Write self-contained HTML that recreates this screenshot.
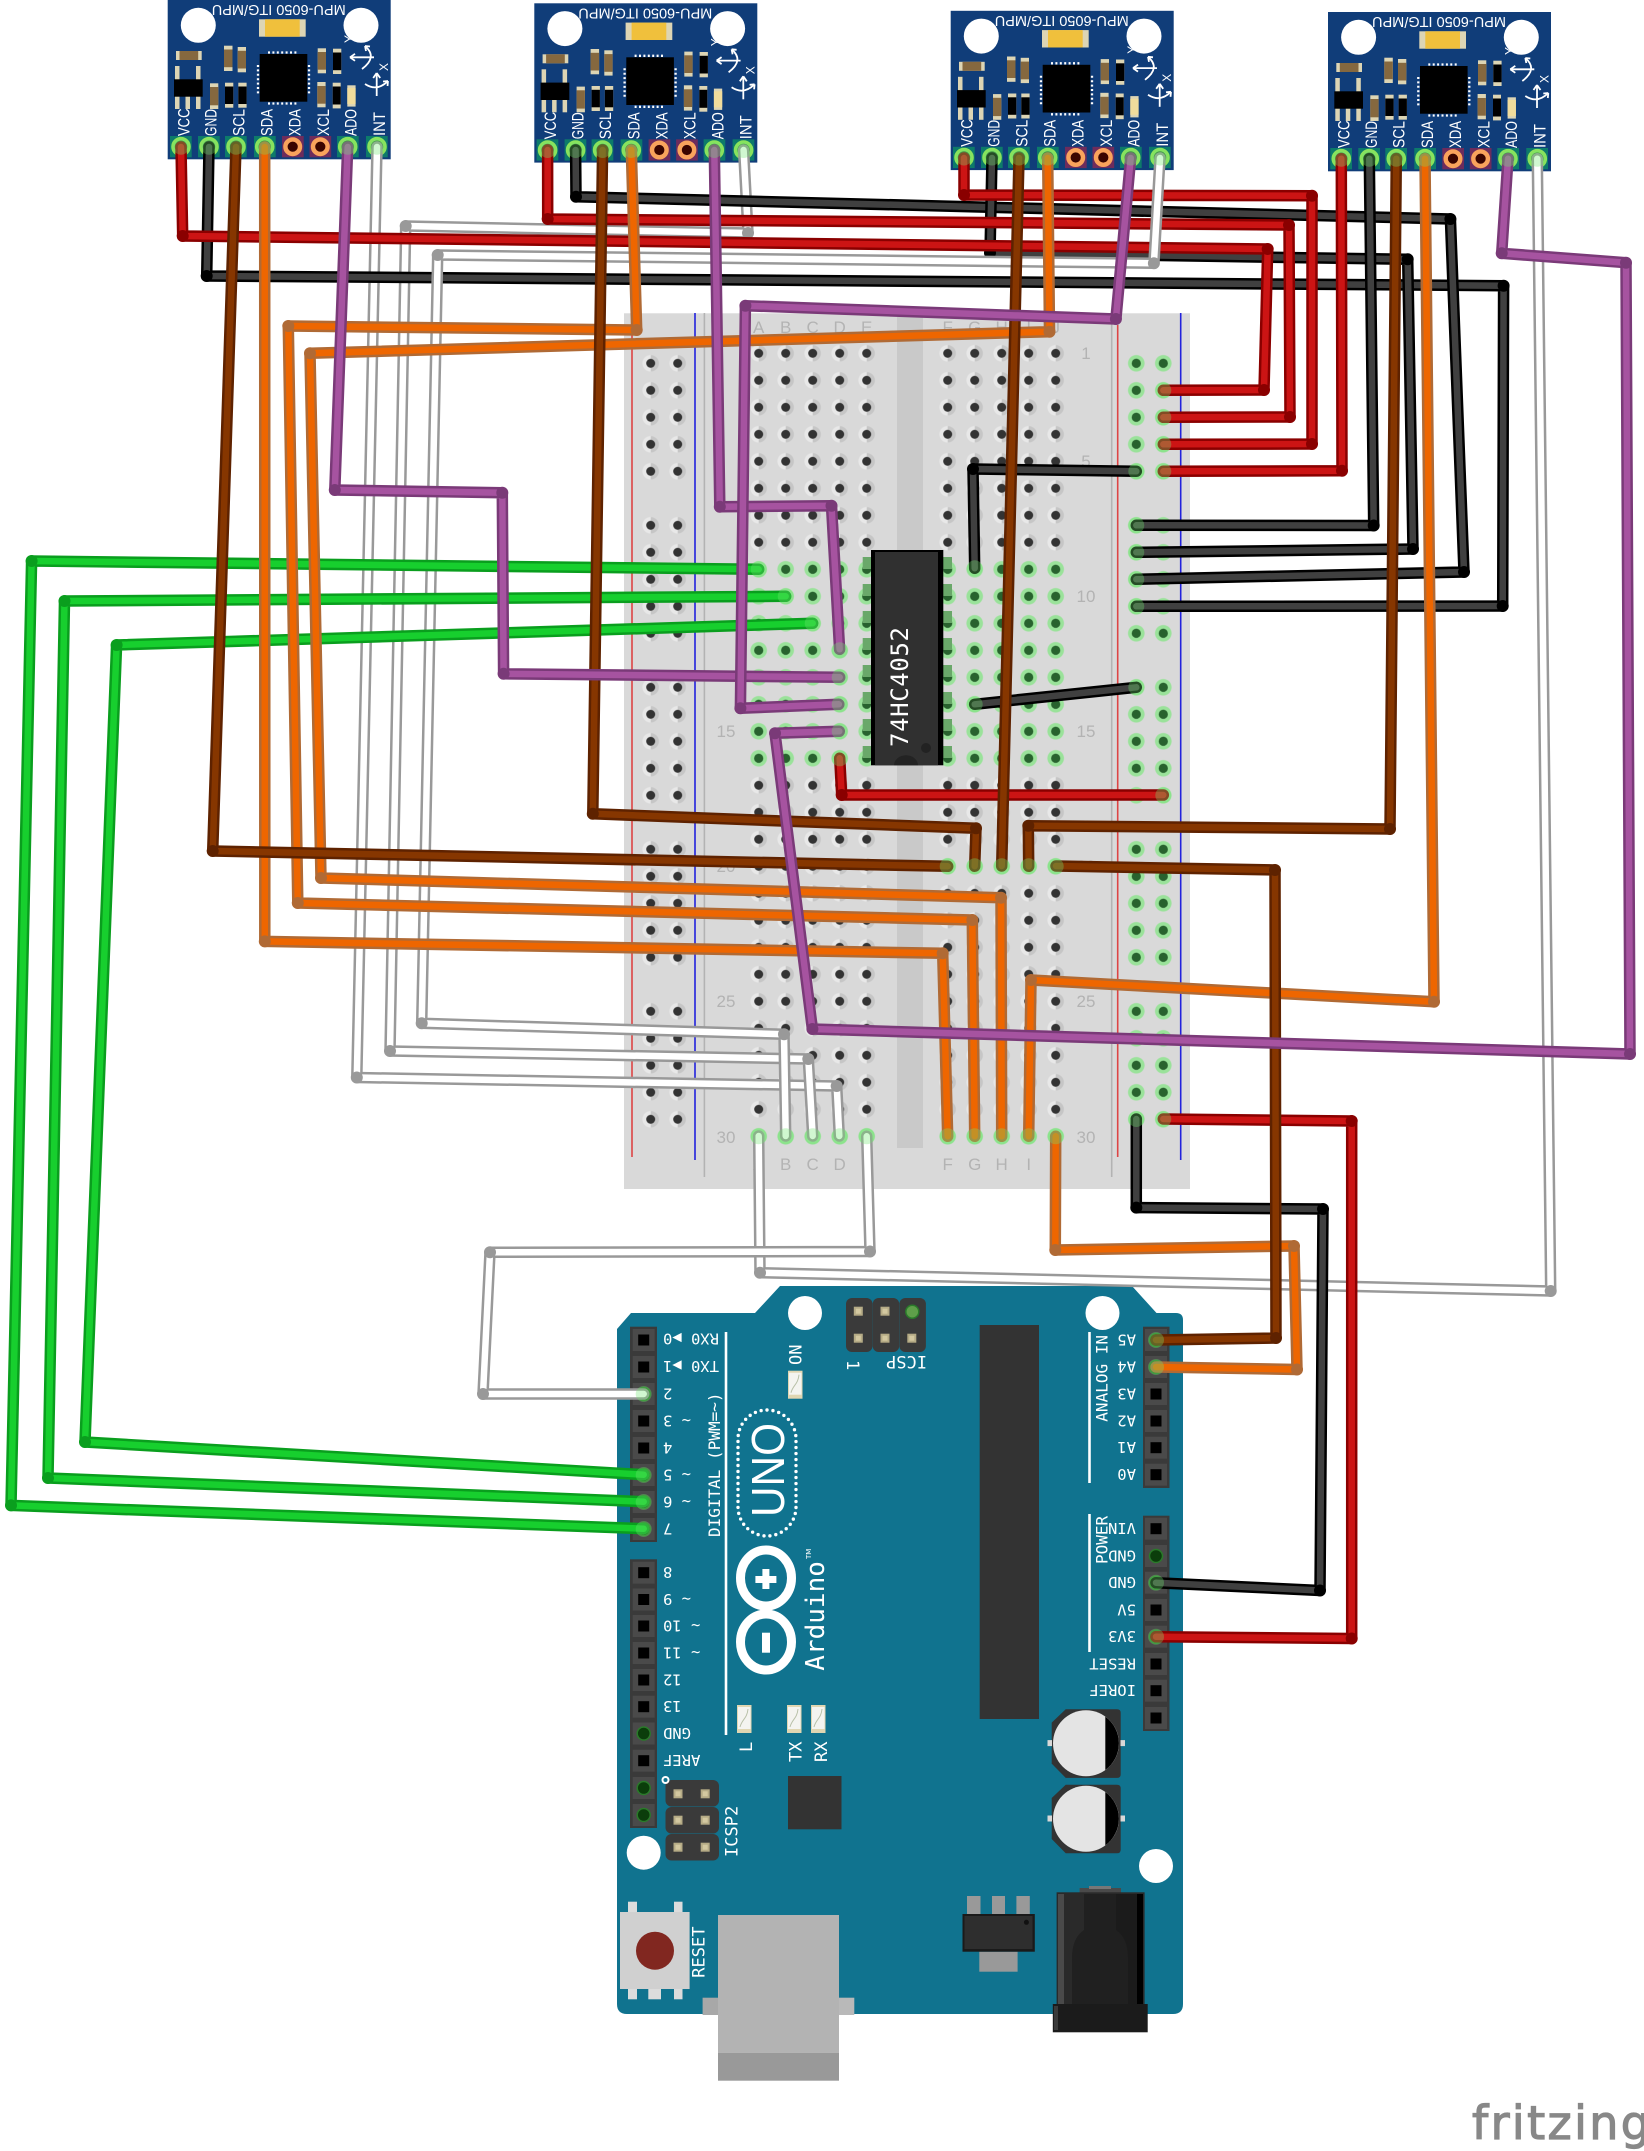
<!DOCTYPE html>
<html><head><meta charset="utf-8"><title>MPU-6050 74HC4052 Arduino wiring</title>
<style>
html,body{margin:0;padding:0;background:#fff}
svg{display:block}
polyline{fill:none;stroke-linejoin:round;stroke-linecap:round}
.ro,.ko,.bo,.yo,.po,.wo,.go{stroke-width:11.5}
.ri,.ki,.bi,.yi,.pi,.wi,.gi{stroke-width:6.5}
.ro{stroke:#8a0000}.ri{stroke:#cc1414;marker-mid:url(#mr)}
.ko{stroke:#000}.ki{stroke:#404040;marker-mid:url(#mk)}
.bo{stroke:#5e2200}.bi{stroke:#863600;marker-mid:url(#mb)}
.yo{stroke:#b06a35}.yi{stroke:#ee6600;marker-mid:url(#my)}
.po{stroke:#7a3a78}.pi{stroke:#a653a0;marker-mid:url(#mp)}
.wo{stroke:#999}.wi{stroke:#fff;marker-mid:url(#mw)}
.go{stroke:#0a9e1e}.gi{stroke:#17cf2e;marker-mid:url(#mg)}
.bb{font-family:"Liberation Sans",sans-serif;font-size:17px;fill:#b3b3b3;text-anchor:middle}
.m{font-family:"DejaVu Sans Mono",monospace;font-size:15.5px;fill:#fff}
.m2{font-family:"DejaVu Sans Mono",monospace;font-size:16px;fill:#fff}
.m3{font-family:"DejaVu Sans Mono",monospace;font-size:17px;fill:#fff}
.e{text-anchor:end}
.lab{font-family:"Liberation Sans",sans-serif;font-size:17px;fill:#fff}
</style></head><body>
<svg xmlns="http://www.w3.org/2000/svg" width="1644" height="2151" viewBox="0 0 1644 2151">
<defs>
<marker id="mr" markerUnits="userSpaceOnUse" markerWidth="14" markerHeight="14" refX="7" refY="7"><circle cx="7" cy="7" r="6" fill="#8a0000"/></marker>
<marker id="mk" markerUnits="userSpaceOnUse" markerWidth="14" markerHeight="14" refX="7" refY="7"><circle cx="7" cy="7" r="6" fill="#000"/></marker>
<marker id="mb" markerUnits="userSpaceOnUse" markerWidth="14" markerHeight="14" refX="7" refY="7"><circle cx="7" cy="7" r="6" fill="#5e2200"/></marker>
<marker id="my" markerUnits="userSpaceOnUse" markerWidth="14" markerHeight="14" refX="7" refY="7"><circle cx="7" cy="7" r="6" fill="#b06a35"/></marker>
<marker id="mp" markerUnits="userSpaceOnUse" markerWidth="14" markerHeight="14" refX="7" refY="7"><circle cx="7" cy="7" r="6" fill="#7a3a78"/></marker>
<marker id="mw" markerUnits="userSpaceOnUse" markerWidth="14" markerHeight="14" refX="7" refY="7"><circle cx="7" cy="7" r="6" fill="#999"/></marker>
<marker id="mg" markerUnits="userSpaceOnUse" markerWidth="14" markerHeight="14" refX="7" refY="7"><circle cx="7" cy="7" r="6" fill="#0a9e1e"/></marker>

<pattern id="hg" patternUnits="userSpaceOnUse" width="27" height="27">
 <circle cx="13.5" cy="13.5" r="8.3" fill="#e8e8e8"/>
 <path d="M13.5 5.2A8.3 8.3 0 0 1 13.5 21.8Z" fill="#c6c6c6"/>
 <circle cx="13.5" cy="13.5" r="4.5" fill="#333"/>
</pattern>
<pattern id="hv" patternUnits="userSpaceOnUse" width="27" height="27">
 <circle cx="13.5" cy="13.5" r="8.3" fill="#9ae29a"/>
 <circle cx="13.5" cy="13.5" r="4.6" fill="#28622e"/>
</pattern>

<g id="pin"><rect x="-11" y="-11" width="22" height="22" fill="#4a4a4a"/><rect x="-5.5" y="-5.5" width="11" height="11" fill="#000"/></g>
<g id="pinG"><rect x="-11" y="-11" width="22" height="22" fill="#4a4a4a"/><circle r="6.5" fill="#0b3d0b" stroke="#2a7a2a" stroke-width="1.5"/></g>
<g id="hp"><rect x="-5" y="-5" width="9" height="9" fill="#b5ab86"/><rect x="-3" y="-3" width="5" height="5" fill="#d3c8a0"/></g>
<g id="led"><rect width="14.5" height="28" fill="#e0d6b2"/><rect x="1" y="2" width="12.5" height="22" fill="#f4f4f0"/><path d="M3 22C5 14 10 14 11 4" stroke="#b8c0a8" stroke-width="1" fill="none"/></g>
<g id="cap"><path d="M1065.7 1784.7H1117q3.7 0 3.7 3.7V1849.6q0 3.7-3.7 3.7H1065.7L1051.7 1839V1798Z" fill="#333"/><rect x="1047.5" y="1815.5" width="4.5" height="6" fill="#d8d8d8"/><rect x="1120.5" y="1815.5" width="4.5" height="6" fill="#d8d8d8"/><circle cx="1086" cy="1818.7" r="33" fill="#e4e4e4"/><path d="M1105.3 1792A33 33 0 0 1 1105.3 1845.4Z" fill="#000"/></g>

<g id="mpu">
 <rect x="167.7" y="0" width="223" height="159.3" fill="#103d79"/>
 <circle cx="198.3" cy="25.3" r="17.5" fill="#fff"/><circle cx="361" cy="25.3" r="17.5" fill="#fff"/>
 <rect x="259" y="19.3" width="46.7" height="17.4" fill="#ddd5b4"/><rect x="265" y="19.3" width="34.7" height="17.4" fill="#f0c03c"/>
 <rect x="176" y="51" width="25.7" height="9" fill="#ddd5b4"/><rect x="179.5" y="51" width="18.7" height="9" fill="#85683f"/>
 <rect x="175" y="66" width="4.5" height="14" fill="#ddd5b4"/><rect x="196" y="66" width="4.5" height="14" fill="#ddd5b4"/>
 <rect x="175" y="96" width="4.5" height="13" fill="#ddd5b4"/><rect x="185.5" y="96" width="4.5" height="13" fill="#ddd5b4"/><rect x="196" y="96" width="4.5" height="13" fill="#ddd5b4"/>
 <rect x="174" y="79.3" width="28.7" height="17.4" fill="#000"/>
 <g fill="#ddd5b4">
  <rect x="224" y="45.7" width="8.5" height="25.3"/><rect x="237.7" y="47" width="8.3" height="25.3"/><rect x="210" y="83.3" width="8.3" height="25.7"/><rect x="225" y="82.7" width="8.3" height="25"/><rect x="238.3" y="82.7" width="8.3" height="25"/>
  <rect x="317.7" y="48.3" width="8.3" height="25"/><rect x="333" y="48.7" width="8.3" height="25.3"/><rect x="317.3" y="82" width="8.3" height="25.3"/><rect x="332.7" y="82.7" width="8" height="25.7"/><rect x="347.3" y="85.3" width="8.3" height="21.3"/>
 </g>
 <g fill="#85683f">
  <rect x="224" y="49.5" width="8.5" height="17.7"/><rect x="237.7" y="50.8" width="8.3" height="17.7"/><rect x="210" y="87" width="8.3" height="18.3"/>
  <rect x="317.7" y="52" width="8.3" height="17.7"/><rect x="317.3" y="86" width="8.3" height="17.7"/>
 </g>
 <g fill="#000">
  <rect x="225" y="86.5" width="8.3" height="17.5"/><rect x="238.3" y="86.5" width="8.3" height="17.5"/><rect x="333" y="52.5" width="8.3" height="17.7"/><rect x="332.7" y="86.5" width="8" height="18"/>
 </g>
 <rect x="347.3" y="88" width="8.3" height="16" fill="#f0dc9c"/>
 <rect x="259.7" y="54" width="47.6" height="47.7" fill="#000"/>
 <g stroke="#fff" stroke-width="2.3" stroke-dasharray="2 2.4" fill="none">
  <path d="M268 52.5H298"/><path d="M268 103.5H298"/><path d="M258 65V94"/><path d="M309 65V94"/>
 </g>
 <g stroke="#fff" stroke-width="1.8" fill="none">
  <path d="M350 57.3H374"/><path d="M350 57.3l5-3.5M350 57.3l5 3.5"/><path d="M365 46Q378 57 362 69"/><path d="M365 46l5 .5M365 46l1 5"/>
  <path d="M376.7 73V96"/><path d="M376.7 73l-3.5 5M376.7 73l3.5 5"/><path d="M365 84Q377 92 388 81"/><path d="M388 81l-5 .5M388 81l-.5 5"/>
 </g>
 <g fill="#0d7b6a">
  <rect x="170" y="136" width="21.7" height="21.3"/><rect x="198" y="136" width="21.7" height="21.3"/><rect x="225" y="136" width="21.7" height="21.3"/><rect x="254" y="136" width="21.7" height="21.3"/><rect x="337" y="136" width="21.7" height="21.3"/><rect x="366" y="136" width="21.7" height="21.3"/>
 </g>
 <rect x="282" y="136" width="21.7" height="21.3" fill="#6e2c5c"/><rect x="309.5" y="136" width="21.7" height="21.3" fill="#6e2c5c"/>
 <g fill="#2d6e36" stroke="#8be25c" stroke-width="3.6">
  <circle cx="181" cy="146.7" r="8"/><circle cx="209" cy="146.7" r="8"/><circle cx="236" cy="146.7" r="8"/><circle cx="264.7" cy="146.7" r="8"/><circle cx="347.7" cy="146.7" r="8"/><circle cx="377" cy="146.7" r="8"/>
 </g>
 <g fill="#3a0500" stroke="#f9a35c" stroke-width="4.4">
  <circle cx="292.7" cy="146.7" r="7.3"/><circle cx="320.3" cy="146.7" r="7.3"/>
 </g>
</g>
<circle id="ov" r="8" fill="#6fe66f" fill-opacity=".33"/>
</defs>

<!-- MPU boards -->
<g id="b1">
 <use href="#mpu"/>
 <text class="lab" transform="translate(345.7,5) rotate(180)" textLength="134" lengthAdjust="spacingAndGlyphs" style="font-size:15px">MPU-6050 ITG/MPU</text>
 <text class="lab" transform="translate(189.3,136) rotate(-90)" textLength="27.5" lengthAdjust="spacingAndGlyphs">VCC</text>
 <text class="lab" transform="translate(216.7,136) rotate(-90)" textLength="27" lengthAdjust="spacingAndGlyphs">GND</text>
 <text class="lab" transform="translate(244.3,136) rotate(-90)" textLength="27" lengthAdjust="spacingAndGlyphs">SCL</text>
 <text class="lab" transform="translate(272.7,136) rotate(-90)" textLength="27" lengthAdjust="spacingAndGlyphs">SDA</text>
 <text class="lab" transform="translate(300.7,136) rotate(-90)" textLength="27" lengthAdjust="spacingAndGlyphs">XDA</text>
 <text class="lab" transform="translate(329,136) rotate(-90)" textLength="27" lengthAdjust="spacingAndGlyphs">XCL</text>
 <text class="lab" transform="translate(356.7,136) rotate(-90)" textLength="27" lengthAdjust="spacingAndGlyphs">ADO</text>
 <text class="lab" transform="translate(385,136) rotate(-90)" textLength="24" lengthAdjust="spacingAndGlyphs">INT</text>
 <text class="lab" transform="translate(353,43) rotate(-90)" style="font-size:12px">Y</text>
 <text class="lab" transform="translate(388,71) rotate(-90)" style="font-size:12px">X</text>
</g>
<g transform="translate(366.6,3.3)">
 <use href="#mpu"/>
 <text class="lab" transform="translate(345.7,5) rotate(180)" textLength="134" lengthAdjust="spacingAndGlyphs" style="font-size:15px">MPU-6050 ITG/MPU</text>
 <text class="lab" transform="translate(189.3,136) rotate(-90)" textLength="27.5" lengthAdjust="spacingAndGlyphs">VCC</text>
 <text class="lab" transform="translate(216.7,136) rotate(-90)" textLength="27" lengthAdjust="spacingAndGlyphs">GND</text>
 <text class="lab" transform="translate(244.3,136) rotate(-90)" textLength="27" lengthAdjust="spacingAndGlyphs">SCL</text>
 <text class="lab" transform="translate(272.7,136) rotate(-90)" textLength="27" lengthAdjust="spacingAndGlyphs">SDA</text>
 <text class="lab" transform="translate(300.7,136) rotate(-90)" textLength="27" lengthAdjust="spacingAndGlyphs">XDA</text>
 <text class="lab" transform="translate(329,136) rotate(-90)" textLength="27" lengthAdjust="spacingAndGlyphs">XCL</text>
 <text class="lab" transform="translate(356.7,136) rotate(-90)" textLength="27" lengthAdjust="spacingAndGlyphs">ADO</text>
 <text class="lab" transform="translate(385,136) rotate(-90)" textLength="24" lengthAdjust="spacingAndGlyphs">INT</text>
 <text class="lab" transform="translate(353,43) rotate(-90)" style="font-size:12px">Y</text>
 <text class="lab" transform="translate(388,71) rotate(-90)" style="font-size:12px">X</text>
</g>
<g transform="translate(783,10.8)">
 <use href="#mpu"/>
 <text class="lab" transform="translate(345.7,5) rotate(180)" textLength="134" lengthAdjust="spacingAndGlyphs" style="font-size:15px">MPU-6050 ITG/MPU</text>
 <text class="lab" transform="translate(189.3,136) rotate(-90)" textLength="27.5" lengthAdjust="spacingAndGlyphs">VCC</text>
 <text class="lab" transform="translate(216.7,136) rotate(-90)" textLength="27" lengthAdjust="spacingAndGlyphs">GND</text>
 <text class="lab" transform="translate(244.3,136) rotate(-90)" textLength="27" lengthAdjust="spacingAndGlyphs">SCL</text>
 <text class="lab" transform="translate(272.7,136) rotate(-90)" textLength="27" lengthAdjust="spacingAndGlyphs">SDA</text>
 <text class="lab" transform="translate(300.7,136) rotate(-90)" textLength="27" lengthAdjust="spacingAndGlyphs">XDA</text>
 <text class="lab" transform="translate(329,136) rotate(-90)" textLength="27" lengthAdjust="spacingAndGlyphs">XCL</text>
 <text class="lab" transform="translate(356.7,136) rotate(-90)" textLength="27" lengthAdjust="spacingAndGlyphs">ADO</text>
 <text class="lab" transform="translate(385,136) rotate(-90)" textLength="24" lengthAdjust="spacingAndGlyphs">INT</text>
 <text class="lab" transform="translate(353,43) rotate(-90)" style="font-size:12px">Y</text>
 <text class="lab" transform="translate(388,71) rotate(-90)" style="font-size:12px">X</text>
</g>
<g transform="translate(1160.3,12)">
 <use href="#mpu"/>
 <text class="lab" transform="translate(345.7,5) rotate(180)" textLength="134" lengthAdjust="spacingAndGlyphs" style="font-size:15px">MPU-6050 ITG/MPU</text>
 <text class="lab" transform="translate(189.3,136) rotate(-90)" textLength="27.5" lengthAdjust="spacingAndGlyphs">VCC</text>
 <text class="lab" transform="translate(216.7,136) rotate(-90)" textLength="27" lengthAdjust="spacingAndGlyphs">GND</text>
 <text class="lab" transform="translate(244.3,136) rotate(-90)" textLength="27" lengthAdjust="spacingAndGlyphs">SCL</text>
 <text class="lab" transform="translate(272.7,136) rotate(-90)" textLength="27" lengthAdjust="spacingAndGlyphs">SDA</text>
 <text class="lab" transform="translate(300.7,136) rotate(-90)" textLength="27" lengthAdjust="spacingAndGlyphs">XDA</text>
 <text class="lab" transform="translate(329,136) rotate(-90)" textLength="27" lengthAdjust="spacingAndGlyphs">XCL</text>
 <text class="lab" transform="translate(356.7,136) rotate(-90)" textLength="27" lengthAdjust="spacingAndGlyphs">ADO</text>
 <text class="lab" transform="translate(385,136) rotate(-90)" textLength="24" lengthAdjust="spacingAndGlyphs">INT</text>
 <text class="lab" transform="translate(353,43) rotate(-90)" style="font-size:12px">Y</text>
 <text class="lab" transform="translate(388,71) rotate(-90)" style="font-size:12px">X</text>
</g>

<!-- Breadboard -->
<rect x="624" y="313.3" width="566" height="875.7" fill="#d9d9d9"/>
<rect x="897" y="317" width="26" height="831" fill="#c9c9c9"/>
<g stroke-width="1.6" fill="none">
 <path d="M632 325V1157" stroke="#dd4444"/><path d="M1117.7 325V1157" stroke="#dd4444"/>
 <path d="M695 313V1160" stroke="#2222dd"/><path d="M1180.7 313V1160" stroke="#2222dd"/>
 <path d="M704.4 313V1177" stroke="#b3b3b3"/><path d="M1111.7 313V1177" stroke="#b3b3b3"/>
</g>
<!-- holes -->
<g transform="translate(745.2,339.8)"><rect width="135" height="216" fill="url(#hg)"/></g>
<g transform="translate(745.2,555.8)"><rect width="135" height="216" fill="url(#hv)"/></g>
<g transform="translate(745.2,771.8)"><rect width="135" height="351" fill="url(#hg)"/></g>
<g transform="translate(745.2,1122.8)"><rect width="135" height="27" fill="url(#hv)"/></g>
<g transform="translate(934.2,339.8)"><rect width="135" height="216" fill="url(#hg)"/></g>
<g transform="translate(934.2,555.8)"><rect width="135" height="216" fill="url(#hv)"/></g>
<g transform="translate(934.2,771.8)"><rect width="135" height="81" fill="url(#hg)"/></g>
<g transform="translate(934.2,852.8)"><rect width="135" height="27" fill="url(#hv)"/></g>
<g transform="translate(934.2,879.8)"><rect width="135" height="243" fill="url(#hg)"/></g>
<g transform="translate(934.2,1122.8)"><rect width="135" height="27" fill="url(#hv)"/></g>
<!-- rails -->
<g transform="translate(637.2,349.8)"><rect width="54" height="135" fill="url(#hg)"/></g>
<g transform="translate(637.2,511.8)"><rect width="54" height="135" fill="url(#hg)"/></g>
<g transform="translate(637.2,673.8)"><rect width="54" height="135" fill="url(#hg)"/></g>
<g transform="translate(637.2,835.8)"><rect width="54" height="135" fill="url(#hg)"/></g>
<g transform="translate(637.2,997.8)"><rect width="54" height="135" fill="url(#hg)"/></g>
<g transform="translate(1122.8,349.8)"><rect width="54" height="135" fill="url(#hv)"/></g>
<g transform="translate(1122.8,511.8)"><rect width="54" height="135" fill="url(#hv)"/></g>
<g transform="translate(1122.8,673.8)"><rect width="54" height="135" fill="url(#hv)"/></g>
<g transform="translate(1122.8,835.8)"><rect width="54" height="135" fill="url(#hv)"/></g>
<g transform="translate(1122.8,997.8)"><rect width="54" height="135" fill="url(#hv)"/></g>
<!-- labels -->
<g>
 <text class="bb" x="758.7" y="333">A</text><text class="bb" x="785.7" y="333">B</text><text class="bb" x="812.7" y="333">C</text><text class="bb" x="839.7" y="333">D</text><text class="bb" x="866.7" y="333">E</text>
 <text class="bb" x="947.7" y="333">F</text><text class="bb" x="974.7" y="333">G</text><text class="bb" x="1001.7" y="333">H</text><text class="bb" x="1028.7" y="333">I</text><text class="bb" x="1055.7" y="333">J</text>
 <text class="bb" x="758.7" y="1170">A</text><text class="bb" x="785.7" y="1170">B</text><text class="bb" x="812.7" y="1170">C</text><text class="bb" x="839.7" y="1170">D</text><text class="bb" x="866.7" y="1170">E</text>
 <text class="bb" x="947.7" y="1170">F</text><text class="bb" x="974.7" y="1170">G</text><text class="bb" x="1001.7" y="1170">H</text><text class="bb" x="1028.7" y="1170">I</text><text class="bb" x="1055.7" y="1170">J</text>
 <text class="bb" x="726" y="737">15</text><text class="bb" x="726" y="872">20</text><text class="bb" x="726" y="1007">25</text><text class="bb" x="726" y="1143">30</text>
 <text class="bb" x="1086" y="359">1</text><text class="bb" x="1086" y="467">5</text><text class="bb" x="1086" y="602">10</text><text class="bb" x="1086" y="737">15</text><text class="bb" x="1086" y="872">20</text><text class="bb" x="1086" y="1007">25</text><text class="bb" x="1086" y="1143">30</text>
</g>
<!-- IC -->
<g fill="#6aa86a">
 <rect x="862.7" y="557" width="12.5" height="12"/><rect x="862.7" y="584" width="12.5" height="12"/><rect x="862.7" y="611" width="12.5" height="12"/><rect x="862.7" y="638" width="12.5" height="12"/><rect x="862.7" y="665" width="12.5" height="12"/><rect x="862.7" y="692" width="12.5" height="12"/><rect x="862.7" y="719" width="12.5" height="12"/><rect x="862.7" y="746" width="12.5" height="12"/>
 <rect x="940" y="557" width="12" height="12"/><rect x="940" y="584" width="12" height="12"/><rect x="940" y="611" width="12" height="12"/><rect x="940" y="638" width="12" height="12"/><rect x="940" y="665" width="12" height="12"/><rect x="940" y="692" width="12" height="12"/><rect x="940" y="719" width="12" height="12"/><rect x="940" y="746" width="12" height="12"/>
</g>
<rect x="871" y="550" width="72.3" height="215.3" fill="#000"/>
<rect x="875" y="552" width="63" height="213.3" fill="#303030"/>
<path d="M894 765.3a12 10 0 0 1 24 0Z" fill="#232323"/>
<circle cx="926" cy="748" r="5" fill="#222"/>
<text transform="translate(908,747) rotate(-90)" textLength="120" style="font-family:'DejaVu Sans Mono',monospace;font-size:24px;fill:#fff">74HC4052</text>

<!-- Arduino -->
<path d="M631 1313H755L780 1286H1132L1156.5 1313H1176q7 0 7 7V2004q0 10-10 10H627q-10 0-10-10V1329Z" fill="#10738f"/>
<circle cx="805" cy="1313" r="17" fill="#fff"/><circle cx="1102.5" cy="1313" r="17" fill="#fff"/><circle cx="643.7" cy="1852.7" r="17" fill="#fff"/><circle cx="1156" cy="1866" r="17" fill="#fff"/>
<rect x="630" y="1326.7" width="27" height="215.3" fill="#3a3a3a"/>
<rect x="630" y="1559.3" width="27" height="268.7" fill="#3a3a3a"/>
<rect x="1143" y="1326.7" width="26.5" height="161.3" fill="#3a3a3a"/>
<rect x="1143" y="1515.7" width="26.5" height="215.3" fill="#3a3a3a"/>
<g>
 <use href="#pin" x="643.7" y="1340"/><use href="#pin" x="643.7" y="1367"/><use href="#pinG" x="643.7" y="1394"/><use href="#pin" x="643.7" y="1421"/><use href="#pin" x="643.7" y="1448"/><use href="#pinG" x="643.7" y="1475"/><use href="#pinG" x="643.7" y="1502"/><use href="#pinG" x="643.7" y="1529"/>
 <use href="#pin" x="643.7" y="1572.7"/><use href="#pin" x="643.7" y="1599.5"/><use href="#pin" x="643.7" y="1626"/><use href="#pin" x="643.7" y="1653"/><use href="#pin" x="643.7" y="1680"/><use href="#pin" x="643.7" y="1706.7"/><use href="#pinG" x="643.7" y="1733.5"/><use href="#pin" x="643.7" y="1760.7"/><use href="#pinG" x="643.7" y="1788"/><use href="#pinG" x="643.7" y="1815"/>
 <use href="#pinG" x="1156" y="1340"/><use href="#pinG" x="1156" y="1367"/><use href="#pin" x="1156" y="1394"/><use href="#pin" x="1156" y="1421"/><use href="#pin" x="1156" y="1447.7"/><use href="#pin" x="1156" y="1474.7"/>
 <use href="#pin" x="1156" y="1528.7"/><use href="#pinG" x="1156" y="1556"/><use href="#pinG" x="1156" y="1582.7"/><use href="#pin" x="1156" y="1610"/><use href="#pinG" x="1156" y="1636.7"/><use href="#pin" x="1156" y="1664"/><use href="#pin" x="1156" y="1690.7"/><use href="#pin" x="1156" y="1718"/>
</g>
<!-- ICSP -->
<g fill="#3a3a3a"><rect x="846" y="1298" width="26.5" height="54" rx="6"/><rect x="872.7" y="1298" width="26.5" height="54" rx="6"/><rect x="899.4" y="1298" width="26.5" height="54" rx="6"/>
<rect x="665.5" y="1780" width="53.5" height="26.5" rx="6"/><rect x="665.5" y="1807" width="53.5" height="26.5" rx="6"/><rect x="665.5" y="1834" width="53.5" height="26.5" rx="6"/></g>
<use href="#hp" x="858.8" y="1311.7"/><use href="#hp" x="885.5" y="1311.7"/><use href="#hp" x="858.8" y="1338.7"/><use href="#hp" x="885.5" y="1338.7"/><use href="#hp" x="912.3" y="1338.7"/>
<circle cx="912.3" cy="1311.7" r="6.5" fill="#5f9f4a" stroke="#2a7a2a" stroke-width="1.5"/>
<use href="#hp" x="678.5" y="1794.3"/><use href="#hp" x="705.7" y="1794.3"/><use href="#hp" x="678.5" y="1820.7"/><use href="#hp" x="705.7" y="1820.7"/><use href="#hp" x="678.5" y="1847.7"/><use href="#hp" x="705.7" y="1847.7"/>
<circle cx="665.5" cy="1780" r="3" fill="#10738f" stroke="#fff" stroke-width="2"/>
<rect x="979.7" y="1325" width="59.3" height="394" fill="#333"/>
<rect x="788" y="1776" width="53.5" height="53.3" fill="#333"/>
<use href="#led" x="788" y="1370.7"/><use href="#led" x="737" y="1705"/><use href="#led" x="787" y="1705"/><use href="#led" x="811" y="1705"/>
<use href="#cap" y="-75.4"/><use href="#cap"/>
<!-- white lines -->
<g stroke="#fff" stroke-width="2.6" fill="none"><path d="M726 1332V1735"/><path d="M1089.5 1332V1483"/><path d="M1089.5 1514V1652"/></g>
<!-- logo -->
<rect x="738" y="1410" width="58" height="126" rx="29" fill="none" stroke="#fff" stroke-width="3.4" stroke-dasharray="0 6" stroke-linecap="round"/>
<text transform="translate(784,1517) rotate(-90)" textLength="94" lengthAdjust="spacingAndGlyphs" style="font-family:'Liberation Sans',sans-serif;font-size:46px;fill:#fff">UNO</text>
<ellipse cx="766" cy="1578" rx="25.5" ry="28" fill="none" stroke="#fff" stroke-width="9"/>
<ellipse cx="766" cy="1642" rx="25.5" ry="28" fill="none" stroke="#fff" stroke-width="9"/>
<rect x="755.4" y="1576" width="21" height="7" fill="#fff"/><rect x="762.4" y="1569" width="7" height="20" fill="#fff"/>
<rect x="762" y="1632.7" width="8" height="20" fill="#fff"/>
<text transform="translate(824,1670.7) rotate(-90)" style="font-family:'DejaVu Sans Mono',monospace;font-size:26px;fill:#fff">Arduino</text>
<text transform="translate(811,1559) rotate(-90)" style="font-family:'DejaVu Sans',sans-serif;font-size:7px;fill:#fff">TM</text>
<!-- arduino labels -->
<g>
 <text class="m e" transform="translate(663,1333.5) rotate(180)">RX0 ▶0</text>
 <text class="m e" transform="translate(663,1361) rotate(180)">TX0 ▶1</text>
 <text class="m e" transform="translate(663,1388.5) rotate(180)">2</text>
 <text class="m e" transform="translate(663,1415.5) rotate(180)">~ 3</text>
 <text class="m e" transform="translate(663,1442.5) rotate(180)">4</text>
 <text class="m e" transform="translate(663,1469.5) rotate(180)">~ 5</text>
 <text class="m e" transform="translate(663,1496.5) rotate(180)">~ 6</text>
 <text class="m e" transform="translate(663,1523.5) rotate(180)">7</text>
 <text class="m e" transform="translate(663,1567) rotate(180)">8</text>
 <text class="m e" transform="translate(663,1594) rotate(180)">~ 9</text>
 <text class="m e" transform="translate(663,1620.5) rotate(180)">~ 10</text>
 <text class="m e" transform="translate(663,1647.5) rotate(180)">~ 11</text>
 <text class="m e" transform="translate(663,1674.5) rotate(180)">12</text>
 <text class="m e" transform="translate(663,1701) rotate(180)">13</text>
 <text class="m e" transform="translate(663,1728) rotate(180)">GND</text>
 <text class="m e" transform="translate(663,1755) rotate(180)">AREF</text>
 <text class="m" transform="translate(1136,1334.5) rotate(180)">A5</text>
 <text class="m" transform="translate(1136,1361.5) rotate(180)">A4</text>
 <text class="m" transform="translate(1136,1388.5) rotate(180)">A3</text>
 <text class="m" transform="translate(1136,1415.5) rotate(180)">A2</text>
 <text class="m" transform="translate(1136,1442) rotate(180)">A1</text>
 <text class="m" transform="translate(1136,1469) rotate(180)">A0</text>
 <text class="m" transform="translate(1136,1523) rotate(180)">VIN</text>
 <text class="m" transform="translate(1136,1550.5) rotate(180)">GND</text>
 <text class="m" transform="translate(1136,1577) rotate(180)">GND</text>
 <text class="m" transform="translate(1136,1604.5) rotate(180)">5V</text>
 <text class="m" transform="translate(1136,1631) rotate(180)">3V3</text>
 <text class="m" transform="translate(1136,1658.5) rotate(180)">RESET</text>
 <text class="m" transform="translate(1136,1685) rotate(180)">IOREF</text>
</g>
<text class="m2" transform="translate(720,1537) rotate(-90)">DIGITAL (PWM=~)</text>
<text class="m2" transform="translate(1107.5,1421.7) rotate(-90)">ANALOG IN</text>
<text class="m2" transform="translate(1107.5,1564) rotate(-90)">POWER</text>
<text class="m3" transform="translate(801.5,1365) rotate(-90)">ON</text>
<text class="m3" transform="translate(752,1752) rotate(-90)">L</text>
<text class="m3" transform="translate(801.5,1762) rotate(-90)">TX</text>
<text class="m3" transform="translate(827,1762) rotate(-90)">RX</text>
<text class="m3" transform="translate(737.5,1857) rotate(-90)">ICSP2</text>
<text class="m3" transform="translate(704.5,1977.7) rotate(-90)">RESET</text>
<text class="m3" transform="translate(927,1356) rotate(180)">ICSP</text>
<text class="m3" transform="translate(847,1360) rotate(90)">1</text>
<!-- reset button -->
<g fill="#dcdcdc"><rect x="628" y="1901.7" width="9" height="11"/><rect x="674" y="1901.7" width="8.5" height="11"/><rect x="628" y="1988" width="9" height="11.3"/><rect x="648.3" y="1988" width="12.7" height="11.3"/><rect x="674" y="1988" width="8.5" height="11.3"/></g>
<rect x="620" y="1912" width="69.6" height="77" fill="#d0d0d0"/>
<circle cx="655" cy="1950.7" r="19" fill="#812720"/>
<!-- USB -->
<rect x="702.6" y="1997.7" width="15.4" height="17.3" fill="#a8a8a8"/><rect x="839" y="1997.7" width="15.3" height="17.3" fill="#b9b9b9"/>
<rect x="718" y="1915" width="121" height="137.7" fill="#b3b3b3"/>
<rect x="718" y="2052.7" width="121" height="28" fill="#999"/>
<!-- regulator -->
<g fill="#999"><rect x="967" y="1896" width="13.5" height="18"/><rect x="992" y="1896" width="13" height="18"/><rect x="1016.4" y="1896" width="13.4" height="18"/><rect x="979.3" y="1951.7" width="38.3" height="20"/></g>
<rect x="962.5" y="1914" width="72.3" height="37.7" fill="#1a1a1a"/><rect x="964.5" y="1916" width="68" height="33" fill="#2e2e2e"/><circle cx="1026.4" cy="1922.3" r="2.5" fill="#111"/>
<!-- jack -->
<rect x="1079.6" y="1888" width="41.4" height="5" fill="#4a4a4a"/><rect x="1089" y="1886" width="22" height="3" fill="#777"/>
<rect x="1056.6" y="1892.3" width="88" height="112" fill="#2a2a2a"/>
<rect x="1058" y="1894" width="6" height="110" fill="#4a4a4a"/><rect x="1115" y="1894" width="22" height="110" fill="#1b1b1b"/><rect x="1137" y="1894" width="6" height="110" fill="#000"/>
<path d="M1084 1894H1116V1930Q1128 1938 1128 1958V2004H1072V1958Q1072 1938 1084 1930Z" fill="#202020"/>
<rect x="1052.8" y="2004" width="94.9" height="28.3" fill="#1b1b1b"/>
<rect x="1054" y="2006" width="4" height="24" fill="#3a3a3a"/>

<!-- WIRES -->
<g id="wires">
 <polyline class="wo" points="377,147 356.8,1077.5 836.7,1086 839.3,1136"/><polyline class="wi" points="377,147 356.8,1077.5 836.7,1086 839.3,1136"/>
 <polyline class="wo" points="743.6,150 748,233 405.7,226 390,1051 808.3,1059 812.7,1136"/><polyline class="wi" points="743.6,150 748,233 405.7,226 390,1051 808.3,1059 812.7,1136"/>
 <polyline class="wo" points="1537.3,158.7 1550.7,1291 760,1272.7 758.7,1136"/><polyline class="wi" points="1537.3,158.7 1550.7,1291 760,1272.7 758.7,1136"/>
 <polyline class="wo" points="866.7,1136.3 870,1251.5 490,1252.3 483,1394 643.7,1394"/><polyline class="wi" points="866.7,1136.3 870,1251.5 490,1252.3 483,1394 643.7,1394"/>
 <polyline class="ko" points="209,147 206.7,276 1503.6,285.7 1502.7,606 1136.3,606.3"/><polyline class="ki" points="209,147 206.7,276 1503.6,285.7 1502.7,606 1136.3,606.3"/>
 <polyline class="ko" points="575.6,150 576,196.7 1450.4,219 1464,572 1136.3,579.3"/><polyline class="ki" points="575.6,150 576,196.7 1450.4,219 1464,572 1136.3,579.3"/>
 <polyline class="ko" points="992,158 990,253 1407.7,259.3 1413,549 1136.3,552.3"/><polyline class="ki" points="992,158 990,253 1407.7,259.3 1413,549 1136.3,552.3"/>
 <polyline class="ko" points="1369.3,158.7 1373.7,525.5 1136.3,525.3"/><polyline class="ki" points="1369.3,158.7 1373.7,525.5 1136.3,525.3"/>
 <polyline class="ko" points="1136.3,471.3 973,469 974.7,568.3"/><polyline class="ki" points="1136.3,471.3 973,469 974.7,568.3"/>
 <polyline class="ko" points="974.7,704.3 1136.3,687.3"/><polyline class="ki" points="974.7,704.3 1136.3,687.3"/>
 <polyline class="ko" points="1136.3,1119 1136.3,1207.6 1323,1209 1320,1590.5 1156,1582.7"/><polyline class="ki" points="1136.3,1119 1136.3,1207.6 1323,1209 1320,1590.5 1156,1582.7"/>
 <polyline class="ro" points="181,147 182.7,236 1267.7,249 1264,390 1163.3,390.3"/><polyline class="ri" points="181,147 182.7,236 1267.7,249 1264,390 1163.3,390.3"/>
 <polyline class="ro" points="547.6,150 547.7,219 1289,225 1290,417 1163.3,417.3"/><polyline class="ri" points="547.6,150 547.7,219 1289,225 1290,417 1163.3,417.3"/>
 <polyline class="ro" points="964,158 964,195 1312,195.7 1312,444 1163.3,444.3"/><polyline class="ri" points="964,158 964,195 1312,195.7 1312,444 1163.3,444.3"/>
 <polyline class="ro" points="1341.3,158.7 1342,470.7 1163.3,471.3"/><polyline class="ri" points="1341.3,158.7 1342,470.7 1163.3,471.3"/>
 <polyline class="ro" points="839.7,758.3 841.7,795 1163.3,795"/><polyline class="ri" points="839.7,758.3 841.7,795 1163.3,795"/>
 <polyline class="ro" points="1163.3,1119 1351.7,1121 1351.7,1638.5 1156,1636.7"/><polyline class="ri" points="1163.3,1119 1351.7,1121 1351.7,1638.5 1156,1636.7"/>
 <polyline class="wo" points="1160,158 1153.9,263.3 437.7,255 421.7,1023.3 784,1034.3 785.7,1136"/><polyline class="wi" points="1160,158 1153.9,263.3 437.7,255 421.7,1023.3 784,1034.3 785.7,1136"/>
 <polyline class="go" points="758.7,569.3 31.6,561 11,1505.4 643.7,1528.7"/><polyline class="gi" points="758.7,569.3 31.6,561 11,1505.4 643.7,1528.7"/>
 <polyline class="go" points="785.7,596.3 64.5,601 48,1478 643.7,1501.7"/><polyline class="gi" points="785.7,596.3 64.5,601 48,1478 643.7,1501.7"/>
 <polyline class="go" points="812.7,623.3 116.6,645 85,1442 643.7,1474.7"/><polyline class="gi" points="812.7,623.3 116.6,645 85,1442 643.7,1474.7"/>
 <polyline class="yo" points="264.7,147 264.8,941.4 942.7,953.3 947.7,1136.3"/><polyline class="yi" points="264.7,147 264.8,941.4 942.7,953.3 947.7,1136.3"/>
 <polyline class="yo" points="631.3,150 636.7,330 288.3,326 297.8,903 972.3,920 974.7,1136.3"/><polyline class="yi" points="631.3,150 636.7,330 288.3,326 297.8,903 972.3,920 974.7,1136.3"/>
 <polyline class="yo" points="1047.7,158 1049.5,331.7 310,353.3 321,878 1001,897.7 1001.7,1136.3"/><polyline class="yi" points="1047.7,158 1049.5,331.7 310,353.3 321,878 1001,897.7 1001.7,1136.3"/>
 <polyline class="yo" points="1425,158.7 1434,1001.8 1031,980 1028.7,1136.3"/><polyline class="yi" points="1425,158.7 1434,1001.8 1031,980 1028.7,1136.3"/>
 <polyline class="yo" points="1055.7,1136.3 1055.3,1250 1294,1246 1297,1369.5 1156,1367"/><polyline class="yi" points="1055.7,1136.3 1055.3,1250 1294,1246 1297,1369.5 1156,1367"/>
 <polyline class="bo" points="236,147 212.7,851 947.7,866.3"/><polyline class="bi" points="236,147 212.7,851 947.7,866.3"/>
 <polyline class="bo" points="602.6,150 592.8,813.8 976,828.3 974.7,866.3"/><polyline class="bi" points="602.6,150 592.8,813.8 976,828.3 974.7,866.3"/>
 <polyline class="bo" points="1019,158 1001.7,866"/><polyline class="bi" points="1019,158 1001.7,866"/>
 <polyline class="bo" points="1396.3,158.7 1390,829 1028.3,825.7 1028.7,866.3"/><polyline class="bi" points="1396.3,158.7 1390,829 1028.3,825.7 1028.7,866.3"/>
 <polyline class="bo" points="1056,866 1275,870 1276,1338 1156,1340"/><polyline class="bi" points="1056,866 1275,870 1276,1338 1156,1340"/>
 <polyline class="po" points="347.7,147 334.8,490 502.3,492.7 503.6,673.8 839.7,677.3"/><polyline class="pi" points="347.7,147 334.8,490 502.3,492.7 503.6,673.8 839.7,677.3"/>
 <polyline class="po" points="714.3,150 719.8,506.7 831.5,505.7 839.6,649.3"/><polyline class="pi" points="714.3,150 719.8,506.7 831.5,505.7 839.6,649.3"/>
 <polyline class="po" points="1130.7,158 1115.9,319 745.4,305.7 740.4,708.3 838.8,704.3"/><polyline class="pi" points="1130.7,158 1115.9,319 745.4,305.7 740.4,708.3 838.8,704.3"/>
 <polyline class="po" points="1508,158.7 1501.7,253.3 1626,262.7 1630,1054 812.4,1029 775,733.3 839.3,731.3"/><polyline class="pi" points="1508,158.7 1501.7,253.3 1626,262.7 1630,1054 812.4,1029 775,733.3 839.3,731.3"/>
</g>
<!-- end overlays -->
<g>
 <use href="#ov" x="181" y="146.7"/><use href="#ov" x="209" y="146.7"/><use href="#ov" x="236" y="146.7"/><use href="#ov" x="264.7" y="146.7"/><use href="#ov" x="347.7" y="146.7"/><use href="#ov" x="377" y="146.7"/>
 <use href="#ov" x="547.6" y="150"/><use href="#ov" x="575.6" y="150"/><use href="#ov" x="602.6" y="150"/><use href="#ov" x="631.3" y="150"/><use href="#ov" x="714.3" y="150"/><use href="#ov" x="743.6" y="150"/>
 <use href="#ov" x="964" y="157.5"/><use href="#ov" x="992" y="157.5"/><use href="#ov" x="1019" y="157.5"/><use href="#ov" x="1047.7" y="157.5"/><use href="#ov" x="1130.7" y="157.5"/><use href="#ov" x="1160" y="157.5"/>
 <use href="#ov" x="1341.3" y="158.7"/><use href="#ov" x="1369.3" y="158.7"/><use href="#ov" x="1396.3" y="158.7"/><use href="#ov" x="1425" y="158.7"/><use href="#ov" x="1508" y="158.7"/><use href="#ov" x="1537.3" y="158.7"/>
 <use href="#ov" x="1163.3" y="390.3"/><use href="#ov" x="1163.3" y="417.3"/><use href="#ov" x="1163.3" y="444.3"/><use href="#ov" x="1163.3" y="471.3"/><use href="#ov" x="1163.3" y="795.3"/><use href="#ov" x="1163.3" y="1119"/>
 <use href="#ov" x="1136.3" y="471.3"/><use href="#ov" x="1136.3" y="525.3"/><use href="#ov" x="1136.3" y="552.3"/><use href="#ov" x="1136.3" y="579.3"/><use href="#ov" x="1136.3" y="606.3"/><use href="#ov" x="1136.3" y="687.3"/><use href="#ov" x="1136.3" y="1119"/>
 <use href="#ov" x="974.7" y="568.3"/><use href="#ov" x="974.7" y="704.3"/>
 <use href="#ov" x="758.7" y="569.3"/><use href="#ov" x="785.7" y="596.3"/><use href="#ov" x="812.7" y="623.3"/>
 <use href="#ov" x="839.7" y="650.3"/><use href="#ov" x="839.7" y="677.3"/><use href="#ov" x="839.7" y="704.3"/><use href="#ov" x="839.7" y="731.3"/><use href="#ov" x="839.7" y="758.3"/>
 <use href="#ov" x="947.7" y="866.3"/><use href="#ov" x="974.7" y="866.3"/><use href="#ov" x="1001.7" y="866.3"/><use href="#ov" x="1028.7" y="866.3"/><use href="#ov" x="1055.7" y="866.3"/>
 <use href="#ov" x="758.7" y="1136.3"/><use href="#ov" x="785.7" y="1136.3"/><use href="#ov" x="812.7" y="1136.3"/><use href="#ov" x="839.7" y="1136.3"/><use href="#ov" x="866.7" y="1136.3"/>
 <use href="#ov" x="947.7" y="1136.3"/><use href="#ov" x="974.7" y="1136.3"/><use href="#ov" x="1001.7" y="1136.3"/><use href="#ov" x="1028.7" y="1136.3"/><use href="#ov" x="1055.7" y="1136.3"/>
 <use href="#ov" x="643.7" y="1394"/><use href="#ov" x="643.7" y="1475"/><use href="#ov" x="643.7" y="1502"/><use href="#ov" x="643.7" y="1529"/>
 <use href="#ov" x="1156" y="1340"/><use href="#ov" x="1156" y="1367"/><use href="#ov" x="1156" y="1582.7"/><use href="#ov" x="1156" y="1636.7"/>
</g>
<text x="1472" y="2139" textLength="178" style="font-family:'DejaVu Sans',sans-serif;font-size:46px;fill:#888;stroke:#888;stroke-width:1.2">fritzing</text>
</svg>
</body></html>
